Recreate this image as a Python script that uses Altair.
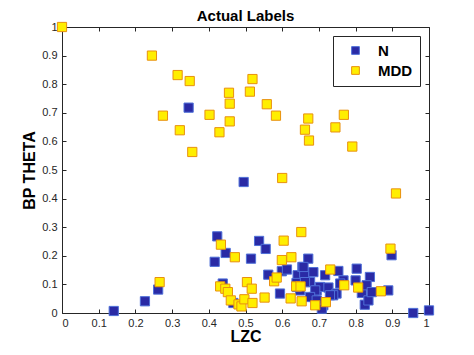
import altair as alt
import pandas as pd

# MDD (yellow) points
mdd_x = [0.000, 0.245, 0.315, 0.348, 0.519, 0.512, 0.455, 0.457, 0.558, 0.275,
         0.402, 0.583, 0.321, 0.429, 0.457, 0.355, 0.671, 0.662, 0.673, 0.768,
         0.745, 0.791, 0.600, 0.910, 0.652, 0.604, 0.266, 0.433, 0.471, 0.599,
         0.625, 0.895, 0.431, 0.445, 0.452, 0.460, 0.481, 0.489, 0.504, 0.517,
         0.497, 0.519, 0.552, 0.578, 0.585, 0.623, 0.638, 0.650, 0.653, 0.690,
         0.719, 0.731, 0.769, 0.807, 0.869]
mdd_y = [1.000, 0.900, 0.832, 0.811, 0.818, 0.774, 0.770, 0.732, 0.730, 0.690,
         0.693, 0.690, 0.639, 0.632, 0.670, 0.563, 0.680, 0.641, 0.603, 0.693,
         0.649, 0.582, 0.472, 0.418, 0.283, 0.253, 0.108, 0.239, 0.195, 0.185,
         0.195, 0.225, 0.093, 0.085, 0.073, 0.044, 0.030, 0.023, 0.108, 0.085,
         0.048, 0.035, 0.054, 0.111, 0.124, 0.051, 0.093, 0.093, 0.041, 0.027,
         0.038, 0.152, 0.097, 0.089, 0.076]

# N (blue) points
n_x = [0.345, 0.495, 0.141, 0.226, 0.262, 0.423, 0.416, 0.446, 0.515, 0.537,
       0.555, 0.438, 0.467, 0.562, 0.594, 0.599, 0.613, 0.642, 0.655, 0.671,
       0.639, 0.660, 0.676, 0.685, 0.694, 0.685, 0.717, 0.703, 0.726, 0.712,
       0.753, 0.748, 0.767, 0.739, 0.803, 0.800, 0.817, 0.825, 0.839, 0.830,
       0.835, 0.844, 0.889, 0.898, 0.957, 1.000, 0.649, 0.690, 0.676, 0.694,
       0.730, 0.758, 0.640, 0.662, 0.708, 0.658]
n_y = [0.718, 0.458, 0.007, 0.041, 0.082, 0.268, 0.179, 0.210, 0.190, 0.252,
       0.224, 0.103, 0.035, 0.134, 0.068, 0.146, 0.152, 0.132, 0.161, 0.190,
       0.105, 0.140, 0.108, 0.143, 0.079, 0.056, 0.132, 0.091, 0.089, 0.027,
       0.147, 0.068, 0.114, 0.062, 0.155, 0.114, 0.070, 0.029, 0.126, 0.097,
       0.044, 0.073, 0.079, 0.202, 0.000, 0.009, 0.079, 0.079, 0.056, 0.044,
       0.062, 0.103, 0.091, 0.108, 0.015, 0.161]

x_ticks = [0, 0.1, 0.2, 0.3, 0.4, 0.5, 0.6, 0.7, 0.8, 0.9, 1]
y_ticks = [0, 0.1, 0.2, 0.3, 0.4, 0.5, 0.6, 0.7, 0.8, 0.9, 1]

df = pd.concat([
    pd.DataFrame({"LZC": n_x, "BP": n_y, "label": "N"}),
    pd.DataFrame({"LZC": mdd_x, "BP": mdd_y, "label": "MDD"}),
], ignore_index=True)

FONT = "Liberation Sans"
GRAY = "#262626"

xscale = alt.Scale(domain=[0, 1], nice=False)
yscale = alt.Scale(domain=[0, 1], nice=False)

color = alt.Color(
    "label:N",
    scale=alt.Scale(domain=["N", "MDD"], range=["#2a2aa5", "#ffee00"]),
    legend=alt.Legend(
        title=None, orient="none", legendX=271, legendY=9,
        strokeColor=GRAY, fillColor="white", padding=7,
        symbolType="square", symbolSize=60, symbolStrokeWidth=1,
        symbolOffset=8, labelOffset=15,
        labelFont=FONT, labelFontSize=15, labelFontWeight="bold", labelColor="black",
        rowPadding=4, labelLimit=200,
    ),
)
stroke = alt.Stroke(
    "label:N",
    scale=alt.Scale(domain=["N", "MDD"], range=["#4f70d8", "#e8900f"]),
    legend=None,
)

points = alt.Chart(df).mark_square(size=85, strokeWidth=1, opacity=1, filled=True).encode(
    x=alt.X("LZC:Q", scale=xscale, title="LZC",
            axis=alt.Axis(values=x_ticks, format="~g", domain=False, tickSize=4,
                          offset=-4, labelPadding=4, titlePadding=0, grid=False)),
    y=alt.Y("BP:Q", scale=yscale, title="BP THETA",
            axis=alt.Axis(values=y_ticks, format="~g", domain=False, tickSize=4,
                          offset=-4, labelPadding=5, titlePadding=4, grid=False)),
    color=color,
    stroke=stroke,
    order=alt.Order("label:N", sort="descending"),
)

frame = alt.Chart(df).mark_point(opacity=0).encode(
    x=alt.X("LZC:Q", scale=xscale,
            axis=alt.Axis(orient="top", values=x_ticks, labels=False, title=None,
                          domain=False, tickSize=4, offset=-4, grid=False)),
    y=alt.Y("BP:Q", scale=yscale,
            axis=alt.Axis(orient="right", values=y_ticks, labels=False, title=None,
                          domain=False, tickSize=4, offset=-4, grid=False)),
)

chart = alt.layer(frame, points).resolve_axis(x="independent", y="independent").properties(
    width=367, height=286,
    title=alt.TitleParams("Actual Labels", font=FONT, fontSize=15, fontWeight="bold",
                          color="black", offset=4, dy=8),
    autosize=alt.AutoSizeParams(type="none"),
    padding={"left": 54, "top": 19, "right": 30, "bottom": 34},
).configure_view(
    stroke=GRAY, strokeWidth=1,
).configure_axis(
    labelFont=FONT, labelFontSize=11, labelColor=GRAY, tickColor=GRAY,
    titleFont=FONT, titleFontSize=16, titleFontWeight="bold", titleColor="black",
)

chart.save("out.html", embed_options={"renderer": "svg", "actions": False})
